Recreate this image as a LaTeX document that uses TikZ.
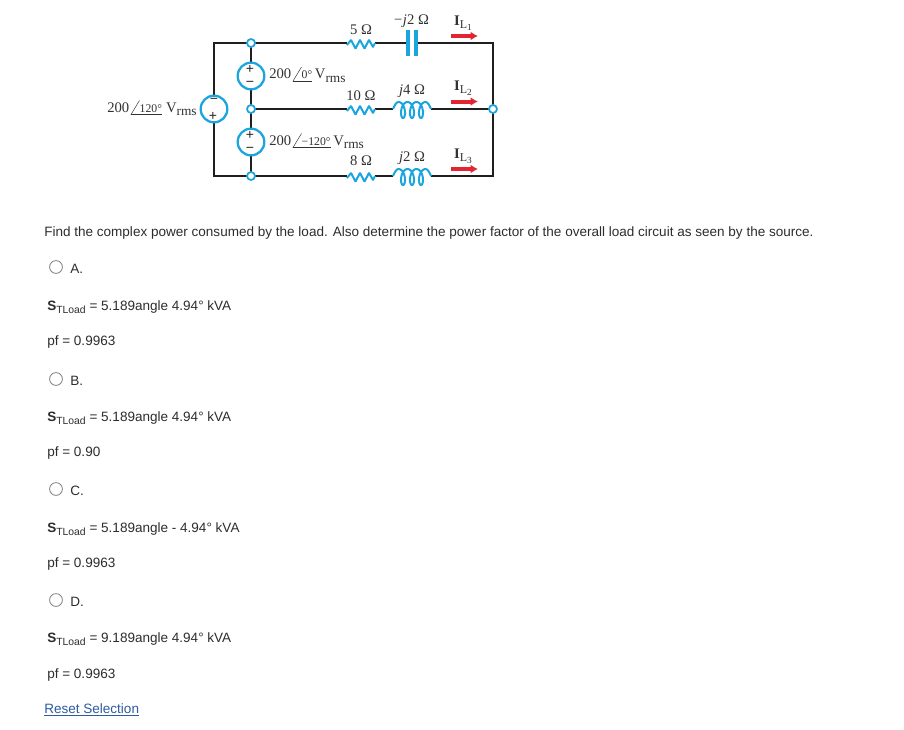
\documentclass[tikz,border=0pt]{standalone}
\usepackage{fontspec}
\setmainfont{Liberation Sans}
\newfontfamily\serifb{Liberation Serif}
\usetikzlibrary{arrows.meta}
\definecolor{wirecyan}{RGB}{27,165,222}
\definecolor{arrowred}{RGB}{226,37,48}
\definecolor{linkblue}{RGB}{45,90,160}
\definecolor{bodytext}{RGB}{45,45,45}
\definecolor{labelink}{RGB}{50,50,50}
\definecolor{radiogray}{RGB}{130,130,130}
\newcommand\phasor[1]{\tikz[baseline=0pt]\draw[labelink,line width=.35pt] (0,-1.8pt)--(6.5pt,9pt);\kern-6.5pt\underline{\kern6.5pt{\fontsize{8.8}{9}\selectfont #1}}}
\newcommand\vrms{V\raisebox{-2.4pt}{\fontsize{10}{10}\selectfont rms}}
\newcommand\iload[1]{\textbf{I}\raisebox{-2pt}{\fontsize{9}{9}\selectfont L\raisebox{-1.4pt}{\fontsize{7}{7}\selectfont #1}}}
\newcommand\sload{\textbf{S}\raisebox{-2pt}{\fontsize{7.8}{8}\selectfont TLoad}}
\tikzset{
  wire/.style={line width=1.4pt,draw=black!88},
  cyanpart/.style={line width=1.5pt,draw=wirecyan},
  tcirc/.style={circle,draw=wirecyan,fill=white,line width=1.3pt,minimum size=6pt,inner sep=0pt},
  vsrc/.style={circle,draw=wirecyan,fill=white,line width=1.7pt,minimum size=20pt,inner sep=0pt},
  sign/.style={inner sep=0pt,font=\fontsize{10.5}{10.5}\selectfont,text=black!85},
  circ/.style={inner sep=0pt,font=\serifb\fontsize{11}{12}\selectfont,text=labelink},
  redarrow/.style={line width=3pt,draw=arrowred,-{Latex[length=5.5pt,width=6.5pt]}},
  body/.style={inner sep=0pt,anchor=west,text=bodytext,font=\fontsize{10.15}{12}\selectfont},
  radio/.style={circle,draw=radiogray,fill=white,line width=.6pt,minimum size=9.6pt,inner sep=0pt},
}
\newcommand\resistor[3]{%
  \coordinate (#1a) at (#2,#3);\coordinate (#1b) at (#2+28,#3);
  \draw[cyanpart,rounded corners=.4pt] (#2,#3+2)--(#2+4,#3-3)--(#2+8.5,#3+5.5)--(#2+13,#3-3)--(#2+17.5,#3+5.5)--(#2+22,#3-3)--(#2+26,#3+4)--(#2+28,#3);}
\newcommand\coil[3]{%
  \coordinate (#1a) at (#2-19,#3);\coordinate (#1b) at (#2+19,#3);
  \draw[cyanpart,smooth,line join=round] (#2-19,#3) .. controls (#2-17,#3-4) and (#2-16,#3-7) .. (#2-13.5,#3-7)
    plot[domain=-540:540,samples=121,variable=\t] ({#2+1.43*\t*pi/180-4*sin(\t)},{#3+1+8*cos(\t)})
    .. controls (#2+16,#3-7) and (#2+17,#3-4) .. (#2+19,#3);}
\begin{document}
\begin{tikzpicture}[x=.75pt,y=-.75pt]
\useasboundingbox[fill=white] (0,0) rectangle (904,729);
% terminals and sources
\coordinate (nt) at (251,43);
\coordinate (nm) at (251,109);
\coordinate (nb) at (251,176);
\coordinate (nr) at (493,109);
\coordinate (vl) at (214,109);
\coordinate (v1) at (251,76);
\coordinate (v2) at (251,142);
\coordinate (ctl) at (214,43);
\coordinate (cbl) at (214,176);
\coordinate (ctr) at (493,43);
\coordinate (cbr) at (493,176);
\coordinate (capa) at (408,43);
\coordinate (capb) at (416,43);
\coordinate (raa) at (347,43);\coordinate (rab) at (375,43);
\coordinate (rba) at (347,109);\coordinate (rbb) at (375,109);
\coordinate (rca) at (347,176);\coordinate (rcb) at (375,176);
\coordinate (lba) at (393,109);\coordinate (lbb) at (431,109);
\coordinate (lca) at (393,176);\coordinate (lcb) at (431,176);
% wires
\draw[wire] (vl) -- (ctl) -- (nt);
\draw[wire] (vl) -- (cbl) -- (nb);
\draw[wire] (nt) -- (nm) -- (nb);
\draw[wire] (nt) -- (raa);
\draw[wire] (rab) -- (capa);
\draw[wire] (capb) -- (ctr) -- (nr);
\draw[wire] (nm) -- (rba);
\draw[wire] (rbb) -- (lba);
\draw[wire] (lbb) -- (nr);
\draw[wire] (nb) -- (rca);
\draw[wire] (rcb) -- (lca);
\draw[wire] (lcb) -- (cbr) -- (nr);
% components
\resistor{ra}{347}{43}
\resistor{rb}{347}{109}
\resistor{rc}{347}{176}
\coil{lb}{412}{109}
\coil{lc}{412}{176}
\node[tcirc] (tnt) at (nt) {};
\node[tcirc] (tnm) at (nm) {};
\node[tcirc] (tnb) at (nb) {};
\node[tcirc] (tnr) at (nr) {};
\node[vsrc] (svl) at (vl) {};
\node[vsrc] (sv1) at (v1) {};
\node[vsrc] (sv2) at (v2) {};
\draw[cyanpart,line width=2.3pt] (408,30) -- (408,56);
\draw[cyanpart,line width=2.3pt] (416,30) -- (416,56);
% signs
\node[sign] (s1) at (214,101) {−};
\node[sign] (s2) at (213,116) {+};
\node[sign] (s3) at (250,69.5) {+};
\node[sign] (s4) at (250,84) {−};
\node[sign] (s5) at (250,135.5) {+};
\node[sign] (s6) at (250,150) {−};
% circuit labels
\node[circ,anchor=west] (lv3) at (107,108) {200\kern1pt\phasor{120°}\kern3pt\vrms};
\node[circ,anchor=west] (lv1) at (269,74.5) {200\kern1pt\phasor{0°}\kern2pt\vrms};
\node[circ,anchor=west] (lv2) at (269,141) {200\kern1pt\phasor{−120°}\kern2pt\vrms};
\node[circ] (t1) at (361,30) {5 Ω};
\node[circ] (t2) at (411,21) {\textit{−j}2 Ω};
\node[circ] (t3) at (361,96) {10 Ω};
\node[circ] (t4) at (412,91) {\textit{j}4 Ω};
\node[circ] (t5) at (361,161) {8 Ω};
\node[circ] (t6) at (412,158) {\textit{j}2 Ω};
\node[circ] (i1) at (463,23) {\iload{1}};
\node[circ] (i2) at (463,88) {\iload{2}};
\node[circ] (i3) at (463,156) {\iload{3}};
\coordinate (a1s) at (451,36);\coordinate (a1e) at (478,36);
\coordinate (a2s) at (451,101.5);\coordinate (a2e) at (478,101.5);
\coordinate (a3s) at (451,169);\coordinate (a3e) at (478,169);
\draw[redarrow] (a1s) -- (a1e);
\draw[redarrow] (a2s) -- (a2e);
\draw[redarrow] (a3s) -- (a3e);
% question
\node[body] (q) at (44,233) {Find the complex power consumed by the load. Also determine the power factor of the overall load circuit as seen by the source.};
\node[radio] (ra1) at (56,267) {};
\node[body] (oa) at (70,269) {A.};
\node[body] (sa) at (47,307) {\sload{} = 5.189angle 4.94° kVA};
\node[body] (pa) at (47,342) {pf = 0.9963};
\node[radio] (ra2) at (56,379) {};
\node[body] (ob) at (70,381) {B.};
\node[body] (sb) at (47,418) {\sload{} = 5.189angle 4.94° kVA};
\node[body] (pb) at (47,453) {pf = 0.90};
\node[radio] (ra3) at (56,489) {};
\node[body] (oc) at (70,491) {C.};
\node[body] (sc) at (47,529) {\sload{} = 5.189angle - 4.94° kVA};
\node[body] (pc) at (47,564) {pf = 0.9963};
\node[radio] (ra4) at (56,600) {};
\node[body] (od) at (70,602) {D.};
\node[body] (sd) at (47,639) {\sload{} = 9.189angle 4.94° kVA};
\node[body] (pd) at (47,675) {pf = 0.9963};
\node[body,text=linkblue] (rs) at (44,710) {\underline{Reset Selection}};
\end{tikzpicture}
\end{document}
